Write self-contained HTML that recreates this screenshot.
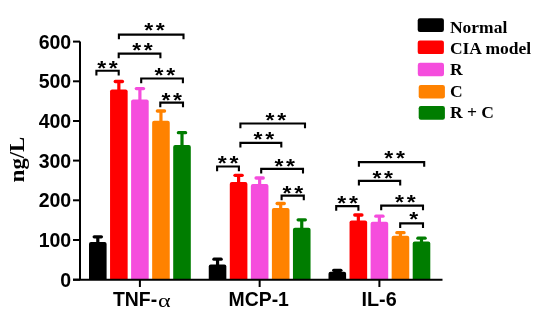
<!DOCTYPE html>
<html><head><meta charset="utf-8"><style>html,body{margin:0;padding:0;background:#fff;width:550px;height:319px;overflow:hidden}svg{display:block;filter:blur(0.4px)}</style></head>
<body>
<svg width="550" height="319" viewBox="0 0 550 319">
<rect width="550" height="319" fill="#fff"/>
<line x1="97.80" y1="236.80" x2="97.80" y2="243.10" stroke="#000000" stroke-width="3.2"/>
<line x1="94.20" y1="236.80" x2="101.40" y2="236.80" stroke="#000000" stroke-width="3.3" stroke-linecap="round"/>
<path d="M89.00 279.70 V244.10 Q89.00 242.10 91.00 242.10 H104.60 Q106.60 242.10 106.60 244.10 V279.70 Z" fill="#000000"/>
<line x1="118.85" y1="81.50" x2="118.85" y2="90.40" stroke="#ff0000" stroke-width="3.2"/>
<line x1="115.25" y1="81.50" x2="122.45" y2="81.50" stroke="#ff0000" stroke-width="3.3" stroke-linecap="round"/>
<path d="M110.05 279.70 V91.40 Q110.05 89.40 112.05 89.40 H125.65 Q127.65 89.40 127.65 91.40 V279.70 Z" fill="#ff0000"/>
<line x1="139.90" y1="88.60" x2="139.90" y2="100.50" stroke="#f54ddd" stroke-width="3.2"/>
<line x1="136.30" y1="88.60" x2="143.50" y2="88.60" stroke="#f54ddd" stroke-width="3.3" stroke-linecap="round"/>
<path d="M131.10 279.70 V101.50 Q131.10 99.50 133.10 99.50 H146.70 Q148.70 99.50 148.70 101.50 V279.70 Z" fill="#f54ddd"/>
<line x1="160.95" y1="111.00" x2="160.95" y2="121.70" stroke="#ff8200" stroke-width="3.2"/>
<line x1="157.35" y1="111.00" x2="164.55" y2="111.00" stroke="#ff8200" stroke-width="3.3" stroke-linecap="round"/>
<path d="M152.15 279.70 V122.70 Q152.15 120.70 154.15 120.70 H167.75 Q169.75 120.70 169.75 122.70 V279.70 Z" fill="#ff8200"/>
<line x1="182.00" y1="132.70" x2="182.00" y2="145.90" stroke="#007d00" stroke-width="3.2"/>
<line x1="178.40" y1="132.70" x2="185.60" y2="132.70" stroke="#007d00" stroke-width="3.3" stroke-linecap="round"/>
<path d="M173.20 279.70 V146.90 Q173.20 144.90 175.20 144.90 H188.80 Q190.80 144.90 190.80 146.90 V279.70 Z" fill="#007d00"/>
<line x1="217.55" y1="259.20" x2="217.55" y2="265.50" stroke="#000000" stroke-width="3.2"/>
<line x1="213.95" y1="259.20" x2="221.15" y2="259.20" stroke="#000000" stroke-width="3.3" stroke-linecap="round"/>
<path d="M208.75 279.70 V266.50 Q208.75 264.50 210.75 264.50 H224.35 Q226.35 264.50 226.35 266.50 V279.70 Z" fill="#000000"/>
<line x1="238.60" y1="175.30" x2="238.60" y2="183.00" stroke="#ff0000" stroke-width="3.2"/>
<line x1="235.00" y1="175.30" x2="242.20" y2="175.30" stroke="#ff0000" stroke-width="3.3" stroke-linecap="round"/>
<path d="M229.80 279.70 V184.00 Q229.80 182.00 231.80 182.00 H245.40 Q247.40 182.00 247.40 184.00 V279.70 Z" fill="#ff0000"/>
<line x1="259.65" y1="178.00" x2="259.65" y2="185.00" stroke="#f54ddd" stroke-width="3.2"/>
<line x1="256.05" y1="178.00" x2="263.25" y2="178.00" stroke="#f54ddd" stroke-width="3.3" stroke-linecap="round"/>
<path d="M250.85 279.70 V186.00 Q250.85 184.00 252.85 184.00 H266.45 Q268.45 184.00 268.45 186.00 V279.70 Z" fill="#f54ddd"/>
<line x1="280.70" y1="203.50" x2="280.70" y2="209.00" stroke="#ff8200" stroke-width="3.2"/>
<line x1="277.10" y1="203.50" x2="284.30" y2="203.50" stroke="#ff8200" stroke-width="3.3" stroke-linecap="round"/>
<path d="M271.90 279.70 V210.00 Q271.90 208.00 273.90 208.00 H287.50 Q289.50 208.00 289.50 210.00 V279.70 Z" fill="#ff8200"/>
<line x1="301.75" y1="219.80" x2="301.75" y2="228.70" stroke="#007d00" stroke-width="3.2"/>
<line x1="298.15" y1="219.80" x2="305.35" y2="219.80" stroke="#007d00" stroke-width="3.3" stroke-linecap="round"/>
<path d="M292.95 279.70 V229.70 Q292.95 227.70 294.95 227.70 H308.55 Q310.55 227.70 310.55 229.70 V279.70 Z" fill="#007d00"/>
<line x1="337.30" y1="270.30" x2="337.30" y2="272.80" stroke="#000000" stroke-width="3.2"/>
<line x1="333.70" y1="270.30" x2="340.90" y2="270.30" stroke="#000000" stroke-width="3.3" stroke-linecap="round"/>
<path d="M328.50 279.70 V273.80 Q328.50 271.80 330.50 271.80 H344.10 Q346.10 271.80 346.10 273.80 V279.70 Z" fill="#000000"/>
<line x1="358.35" y1="215.00" x2="358.35" y2="221.60" stroke="#ff0000" stroke-width="3.2"/>
<line x1="354.75" y1="215.00" x2="361.95" y2="215.00" stroke="#ff0000" stroke-width="3.3" stroke-linecap="round"/>
<path d="M349.55 279.70 V222.60 Q349.55 220.60 351.55 220.60 H365.15 Q367.15 220.60 367.15 222.60 V279.70 Z" fill="#ff0000"/>
<line x1="379.40" y1="216.20" x2="379.40" y2="222.80" stroke="#f54ddd" stroke-width="3.2"/>
<line x1="375.80" y1="216.20" x2="383.00" y2="216.20" stroke="#f54ddd" stroke-width="3.3" stroke-linecap="round"/>
<path d="M370.60 279.70 V223.80 Q370.60 221.80 372.60 221.80 H386.20 Q388.20 221.80 388.20 223.80 V279.70 Z" fill="#f54ddd"/>
<line x1="400.45" y1="232.70" x2="400.45" y2="236.80" stroke="#ff8200" stroke-width="3.2"/>
<line x1="396.85" y1="232.70" x2="404.05" y2="232.70" stroke="#ff8200" stroke-width="3.3" stroke-linecap="round"/>
<path d="M391.65 279.70 V237.80 Q391.65 235.80 393.65 235.80 H407.25 Q409.25 235.80 409.25 237.80 V279.70 Z" fill="#ff8200"/>
<line x1="421.50" y1="238.20" x2="421.50" y2="242.50" stroke="#007d00" stroke-width="3.2"/>
<line x1="417.90" y1="238.20" x2="425.10" y2="238.20" stroke="#007d00" stroke-width="3.3" stroke-linecap="round"/>
<path d="M412.70 279.70 V243.50 Q412.70 241.50 414.70 241.50 H428.30 Q430.30 241.50 430.30 243.50 V279.70 Z" fill="#007d00"/>
<path d="M80 41.6 V280.7 M73 279.7 H442.5" stroke="#000" stroke-width="2" fill="none"/>
<line x1="73" y1="41.6" x2="80" y2="41.6" stroke="#000" stroke-width="2"/>
<line x1="73" y1="81.3" x2="80" y2="81.3" stroke="#000" stroke-width="2"/>
<line x1="73" y1="121.0" x2="80" y2="121.0" stroke="#000" stroke-width="2"/>
<line x1="73" y1="160.6" x2="80" y2="160.6" stroke="#000" stroke-width="2"/>
<line x1="73" y1="200.3" x2="80" y2="200.3" stroke="#000" stroke-width="2"/>
<line x1="73" y1="240.0" x2="80" y2="240.0" stroke="#000" stroke-width="2"/>
<line x1="73" y1="279.7" x2="80" y2="279.7" stroke="#000" stroke-width="2"/>
<line x1="139.90" y1="279.7" x2="139.90" y2="287" stroke="#000" stroke-width="2"/>
<line x1="259.65" y1="279.7" x2="259.65" y2="287" stroke="#000" stroke-width="2"/>
<line x1="379.40" y1="279.7" x2="379.40" y2="287" stroke="#000" stroke-width="2"/>
<text transform="translate(71.20,48.60)" font-family="'Liberation Sans', Arial, sans-serif" font-size="19.5" font-weight="bold" text-anchor="end">600</text>
<text transform="translate(71.20,88.30)" font-family="'Liberation Sans', Arial, sans-serif" font-size="19.5" font-weight="bold" text-anchor="end">500</text>
<text transform="translate(71.20,128.00)" font-family="'Liberation Sans', Arial, sans-serif" font-size="19.5" font-weight="bold" text-anchor="end">400</text>
<text transform="translate(71.20,167.60)" font-family="'Liberation Sans', Arial, sans-serif" font-size="19.5" font-weight="bold" text-anchor="end">300</text>
<text transform="translate(71.20,207.30)" font-family="'Liberation Sans', Arial, sans-serif" font-size="19.5" font-weight="bold" text-anchor="end">200</text>
<text transform="translate(71.20,247.00)" font-family="'Liberation Sans', Arial, sans-serif" font-size="19.5" font-weight="bold" text-anchor="end">100</text>
<text transform="translate(71.20,286.70)" font-family="'Liberation Sans', Arial, sans-serif" font-size="19.5" font-weight="bold" text-anchor="end">0</text>
<text transform="translate(113.00,305.70)" font-family="'Liberation Sans', Arial, sans-serif" font-size="19.4" font-weight="bold" text-anchor="start">TNF-</text>
<text transform="translate(158.00,307.40) scale(1.23,1.0)" font-family="'Liberation Serif', 'Times New Roman', serif" font-size="19.6" font-weight="normal" text-anchor="start">α</text>
<text transform="translate(258.75,305.70)" font-family="'Liberation Sans', Arial, sans-serif" font-size="19.4" font-weight="bold" text-anchor="middle">MCP-1</text>
<text transform="translate(379.05,305.90)" font-family="'Liberation Sans', Arial, sans-serif" font-size="19.8" font-weight="bold" text-anchor="middle">IL-6</text>
<text transform="translate(23.70,159.50) rotate(-90) scale(1.08,1.0)" font-family="'Liberation Serif', 'Times New Roman', serif" font-size="21" font-weight="bold" text-anchor="middle">ng/L</text>
<path d="M118.90 39.30 V34.60 H183.50 V39.30" stroke="#000" stroke-width="2.1" fill="none"/>
<text transform="translate(155.75,37.40) scale(1.0,0.9)" font-family="'Liberation Sans', Arial, sans-serif" font-size="23.0" font-weight="bold" text-anchor="middle" letter-spacing="2.65">**</text>
<path d="M118.70 58.35 V53.65 H160.40 V58.35" stroke="#000" stroke-width="2.1" fill="none"/>
<text transform="translate(143.85,57.20) scale(1.0,0.9)" font-family="'Liberation Sans', Arial, sans-serif" font-size="23.0" font-weight="bold" text-anchor="middle" letter-spacing="2.65">**</text>
<path d="M96.40 75.45 V70.75 H118.70 V75.45" stroke="#000" stroke-width="2.1" fill="none"/>
<text transform="translate(108.80,74.50) scale(1.0,0.9)" font-family="'Liberation Sans', Arial, sans-serif" font-size="23.0" font-weight="bold" text-anchor="middle" letter-spacing="2.65">**</text>
<path d="M141.20 83.20 V78.50 H182.90 V83.20" stroke="#000" stroke-width="2.1" fill="none"/>
<text transform="translate(166.20,82.10) scale(1.0,0.9)" font-family="'Liberation Sans', Arial, sans-serif" font-size="23.0" font-weight="bold" text-anchor="middle" letter-spacing="2.65">**</text>
<path d="M160.30 107.30 V102.60 H183.00 V107.30" stroke="#000" stroke-width="2.1" fill="none"/>
<text transform="translate(173.00,106.90) scale(1.0,0.9)" font-family="'Liberation Sans', Arial, sans-serif" font-size="23.0" font-weight="bold" text-anchor="middle" letter-spacing="2.65">**</text>
<path d="M240.40 128.20 V123.50 H305.00 V128.20" stroke="#000" stroke-width="2.1" fill="none"/>
<text transform="translate(277.20,127.40) scale(1.0,0.9)" font-family="'Liberation Sans', Arial, sans-serif" font-size="23.0" font-weight="bold" text-anchor="middle" letter-spacing="2.65">**</text>
<path d="M240.40 147.60 V142.90 H281.30 V147.60" stroke="#000" stroke-width="2.1" fill="none"/>
<text transform="translate(265.20,145.90) scale(1.0,0.9)" font-family="'Liberation Sans', Arial, sans-serif" font-size="23.0" font-weight="bold" text-anchor="middle" letter-spacing="2.65">**</text>
<path d="M217.10 171.20 V166.50 H238.90 V171.20" stroke="#000" stroke-width="2.1" fill="none"/>
<text transform="translate(229.45,170.40) scale(1.0,0.9)" font-family="'Liberation Sans', Arial, sans-serif" font-size="23.0" font-weight="bold" text-anchor="middle" letter-spacing="2.65">**</text>
<path d="M261.20 173.60 V168.90 H303.00 V173.60" stroke="#000" stroke-width="2.1" fill="none"/>
<text transform="translate(286.00,172.70) scale(1.0,0.9)" font-family="'Liberation Sans', Arial, sans-serif" font-size="23.0" font-weight="bold" text-anchor="middle" letter-spacing="2.65">**</text>
<path d="M281.60 200.30 V195.60 H303.80 V200.30" stroke="#000" stroke-width="2.1" fill="none"/>
<text transform="translate(294.15,199.50) scale(1.0,0.9)" font-family="'Liberation Sans', Arial, sans-serif" font-size="23.0" font-weight="bold" text-anchor="middle" letter-spacing="2.65">**</text>
<path d="M358.90 166.80 V162.10 H424.20 V166.80" stroke="#000" stroke-width="2.1" fill="none"/>
<text transform="translate(395.90,165.40) scale(1.0,0.9)" font-family="'Liberation Sans', Arial, sans-serif" font-size="23.0" font-weight="bold" text-anchor="middle" letter-spacing="2.65">**</text>
<path d="M358.90 185.60 V180.90 H400.20 V185.60" stroke="#000" stroke-width="2.1" fill="none"/>
<text transform="translate(384.10,184.50) scale(1.0,0.9)" font-family="'Liberation Sans', Arial, sans-serif" font-size="23.0" font-weight="bold" text-anchor="middle" letter-spacing="2.65">**</text>
<path d="M336.20 210.80 V206.10 H358.40 V210.80" stroke="#000" stroke-width="2.1" fill="none"/>
<text transform="translate(348.90,209.80) scale(1.0,0.9)" font-family="'Liberation Sans', Arial, sans-serif" font-size="23.0" font-weight="bold" text-anchor="middle" letter-spacing="2.65">**</text>
<path d="M381.20 210.30 V205.60 H423.00 V210.30" stroke="#000" stroke-width="2.1" fill="none"/>
<text transform="translate(406.65,209.10) scale(1.0,0.9)" font-family="'Liberation Sans', Arial, sans-serif" font-size="23.0" font-weight="bold" text-anchor="middle" letter-spacing="2.65">**</text>
<path d="M400.20 228.10 V223.40 H423.00 V228.10" stroke="#000" stroke-width="2.1" fill="none"/>
<text transform="translate(415.10,225.80) scale(1.0,0.9)" font-family="'Liberation Sans', Arial, sans-serif" font-size="23.0" font-weight="bold" text-anchor="middle" letter-spacing="2.65">*</text>
<rect x="417.7" y="18.30" width="26.2" height="13.6" rx="2.2" fill="#000000"/>
<text transform="translate(449.90,32.60)" font-family="'Liberation Serif', 'Times New Roman', serif" font-size="17.5" font-weight="bold" text-anchor="start">Normal</text>
<rect x="417.7" y="40.50" width="26.2" height="13.6" rx="2.2" fill="#ff0000"/>
<text transform="translate(449.90,53.95)" font-family="'Liberation Serif', 'Times New Roman', serif" font-size="17.5" font-weight="bold" text-anchor="start">CIA model</text>
<rect x="417.8" y="62.70" width="26.2" height="13.6" rx="2.2" fill="#f54ddd"/>
<text transform="translate(449.90,75.30)" font-family="'Liberation Serif', 'Times New Roman', serif" font-size="17.5" font-weight="bold" text-anchor="start">R</text>
<rect x="418.7" y="84.90" width="26.2" height="13.6" rx="2.2" fill="#ff8200"/>
<text transform="translate(449.90,96.65)" font-family="'Liberation Serif', 'Times New Roman', serif" font-size="17.5" font-weight="bold" text-anchor="start">C</text>
<rect x="418.7" y="106.10" width="26.2" height="13.6" rx="2.2" fill="#007d00"/>
<text transform="translate(449.90,118.00)" font-family="'Liberation Serif', 'Times New Roman', serif" font-size="17.5" font-weight="bold" text-anchor="start">R + C</text>
</svg>
</body></html>
